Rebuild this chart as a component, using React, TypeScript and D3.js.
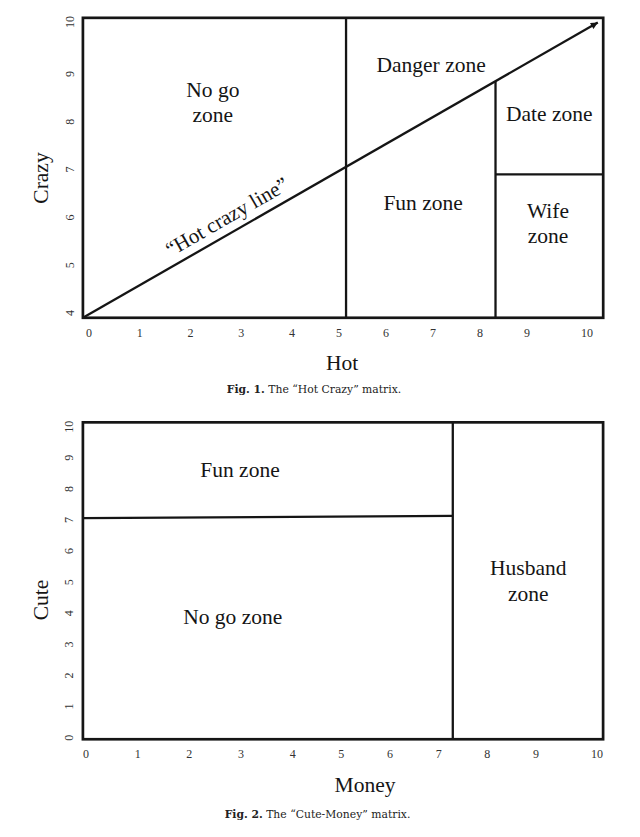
import * as d3 from "d3";

// ---- Fig. 1: the "Hot Crazy" matrix ----
const hotTicks = [0, 1, 2, 3, 4, 5, 6, 7, 8, 9, 10];
const crazyTicks = [4, 5, 6, 7, 8, 9, 10];
const hotBounds = [-0.12, 10.27];
const crazyBounds = [3.9, 10.08];
const hotCrazyLine: [number, number][] = [[-0.12, 3.9], [10.18, 9.99]];
const hotCrazySegments: [number, number][][] = [
  [[5.15, 3.9], [5.15, 10.08]],
  [[8.33, 3.9], [8.33, 8.85]],
  [[8.33, 6.9], [10.27, 6.9]],
];
const hotCrazyZones = [
  { text: ["No go", "zone"], at: [2.44, 8.41] },
  { text: ["Danger zone"], at: [6.96, 9.19] },
  { text: ["Date zone"], at: [9.37, 8.18] },
  { text: ["Fun zone"], at: [6.79, 6.32] },
  { text: ["Wife", "zone"], at: [9.35, 5.88] },
];

// ---- Fig. 2: the "Cute-Money" matrix ----
const moneyTicks = [0, 1, 2, 3, 4, 5, 6, 7, 8, 9, 10];
const cuteTicks = [0, 1, 2, 3, 4, 5, 6, 7, 8, 9, 10];
const moneyBounds = [-0.06, 10.1];
const cuteBounds = [-0.05, 10.14];
const cuteMoneySegments: [number, number][][] = [
  [[7.29, -0.05], [7.29, 10.14]],
  [[-0.06, 7.06], [7.29, 7.13]],
];
const cuteMoneyZones = [
  { text: ["Fun zone"], at: [2.98, 8.61] },
  { text: ["No go zone"], at: [2.84, 3.89] },
  { text: ["Husband", "zone"], at: [8.84, 5.06] },
];

const SERIF = "'Liberation Serif', 'Times New Roman', serif";
const CAPTION_FONT = "'DejaVu Serif', serif";
const INK = "#151515";

type Scale = d3.ScaleLinear<number, number>;

type MatrixProps = {
  x: Scale;
  y: Scale;
  xTicks: number[];
  yTicks: number[];
  xBounds: number[];
  yBounds: number[];
  segments: [number, number][][];
  zones: { text: string[]; at: number[] }[];
  xTitle: string;
  yTitle: string;
  xTickY: number;
  yTickX: number;
  xTitlePos: [number, number];
  yTitlePos: [number, number];
  caption: { num: string; text: string; x: number; y: number };
  children?: any;
};

const Matrix = (p: MatrixProps) => {
  const line = d3
    .line<[number, number]>()
    .x((d) => p.x(d[0]))
    .y((d) => p.y(d[1]));
  const x0 = p.x(p.xBounds[0]);
  const x1 = p.x(p.xBounds[1]);
  const y0 = p.y(p.yBounds[1]);
  const y1 = p.y(p.yBounds[0]);

  return (
    <g>
      {p.segments.map((s, i) => (
        <path key={i} d={line(s) ?? ""} stroke={INK} strokeWidth={2.3} fill="none" />
      ))}
      {p.children}
      <rect x={x0} y={y0} width={x1 - x0} height={y1 - y0} fill="none" stroke={INK} strokeWidth={2.7} />

      {p.zones.map((z, i) => {
        const cx = p.x(z.at[0]);
        const cy = p.y(z.at[1]);
        const lh = 25.5;
        const top = cy - ((z.text.length - 1) * lh) / 2;
        return (
          <text key={i} fontFamily={SERIF} fontSize={21.5} fill={INK} textAnchor="middle">
            {z.text.map((t, j) => (
              <tspan key={j} x={cx} y={top + j * lh} dy="0.35em">
                {t}
              </tspan>
            ))}
          </text>
        );
      })}

      {p.xTicks.map((t) => (
        <text
          key={"x" + t}
          x={p.x(t)}
          y={p.xTickY}
          dy="0.35em"
          textAnchor="middle"
          fontFamily={SERIF}
          fontSize={12}
          fill="#333"
        >
          {t}
        </text>
      ))}
      {p.yTicks.map((t) => (
        <text
          key={"y" + t}
          transform={`translate(${p.yTickX},${p.y(t)}) rotate(-90)`}
          dy="0.35em"
          textAnchor="middle"
          fontFamily={SERIF}
          fontSize={12}
          fill="#333"
        >
          {t}
        </text>
      ))}

      <text
        x={p.xTitlePos[0]}
        y={p.xTitlePos[1]}
        dy="0.35em"
        textAnchor="middle"
        fontFamily={SERIF}
        fontSize={21.5}
        fill={INK}
      >
        {p.xTitle}
      </text>
      <text
        transform={`translate(${p.yTitlePos[0]},${p.yTitlePos[1]}) rotate(-90)`}
        dy="0.35em"
        textAnchor="middle"
        fontFamily={SERIF}
        fontSize={21.5}
        fill={INK}
      >
        {p.yTitle}
      </text>

      <text
        x={p.caption.x}
        y={p.caption.y}
        textAnchor="middle"
        fontFamily={CAPTION_FONT}
        fontSize={10.8}
        fill="#222"
      >
        <tspan fontWeight="bold">{p.caption.num}</tspan> {p.caption.text}
      </text>
    </g>
  );
};

export default function App() {
  // The scanned figure's tick labels are not evenly spaced, so the scales are polylinear.
  const hotX = d3.scaleLinear().domain([0, 4, 9, 10]).range([89, 292, 527, 587]);
  const crazyY = d3.scaleLinear().domain([4, 9, 10]).range([313, 74, 22]);
  const moneyX = d3.scaleLinear().domain([0, 4, 9, 10]).range([86, 292.7, 536, 597]);
  const cuteY = d3.scaleLinear().domain([0, 10]).range([737.7, 426.7]);

  // Hot crazy line, with its label riding above it
  const a: [number, number] = [hotX(hotCrazyLine[0][0]), crazyY(hotCrazyLine[0][1])];
  const b: [number, number] = [hotX(hotCrazyLine[1][0]), crazyY(hotCrazyLine[1][1])];
  const angle = (Math.atan2(b[1] - a[1], b[0] - a[0]) * 180) / Math.PI;
  const mid = d3.interpolate(a, b)(0.295);
  const rad = (angle * Math.PI) / 180;
  const off = 9;
  const lx = mid[0] + Math.sin(rad) * off;
  const ly = mid[1] - Math.cos(rad) * off;

  return (
    <svg
      width={640}
      height={837}
      style={{ position: "absolute", left: 0, top: 0, background: "#fff" }}
    >
      <defs>
        <marker
          id="arrow"
          viewBox="0 0 10 10"
          refX={10}
          refY={5}
          markerWidth={9}
          markerHeight={7}
          markerUnits="userSpaceOnUse"
          orient="auto"
        >
          <path d="M0,0 L10,5 L0,10 z" fill={INK} />
        </marker>
      </defs>

      <Matrix
        x={hotX}
        y={crazyY}
        xTicks={hotTicks}
        yTicks={crazyTicks}
        xBounds={hotBounds}
        yBounds={crazyBounds}
        segments={hotCrazySegments}
        zones={hotCrazyZones}
        xTitle="Hot"
        yTitle="Crazy"
        xTickY={332.5}
        yTickX={70}
        xTitlePos={[342, 362]}
        yTitlePos={[40, 178]}
        caption={{ num: "Fig. 1.", text: "The “Hot Crazy” matrix.", x: 314, y: 393 }}
      >
        <path
          d={d3.line()([a, b]) ?? ""}
          stroke={INK}
          strokeWidth={2.3}
          fill="none"
          markerEnd="url(#arrow)"
        />
        <text
          transform={`translate(${lx},${ly}) rotate(${angle})`}
          textAnchor="middle"
          fontFamily={SERIF}
          fontSize={21}
          fill={INK}
        >
          “Hot crazy line”
        </text>
      </Matrix>

      <Matrix
        x={moneyX}
        y={cuteY}
        xTicks={moneyTicks}
        yTicks={cuteTicks}
        xBounds={moneyBounds}
        yBounds={cuteBounds}
        segments={cuteMoneySegments}
        zones={cuteMoneyZones}
        xTitle="Money"
        yTitle="Cute"
        xTickY={753.3}
        yTickX={68.5}
        xTitlePos={[365, 784]}
        yTitlePos={[40, 600]}
        caption={{ num: "Fig. 2.", text: "The “Cute-Money” matrix.", x: 317.5, y: 818 }}
      />
    </svg>
  );
}
